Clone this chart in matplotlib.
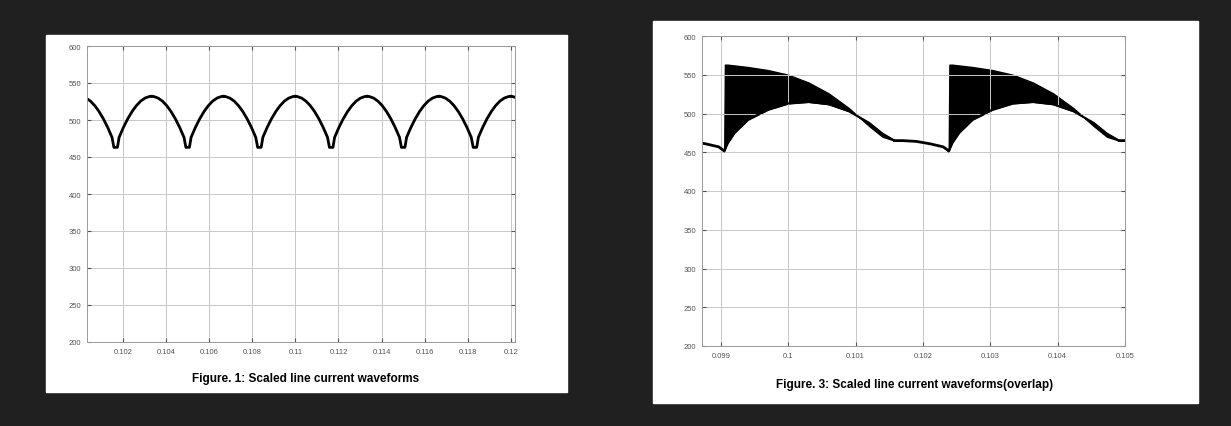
import matplotlib.pyplot as plt
from matplotlib.patches import Rectangle
import numpy as np

plt.rcParams["font.family"] = ["Liberation Sans", "DejaVu Sans"]

W, H = 1231, 427

# Figure 1: one ripple cycle (time from peak in s, current)
cycle1_dt = [0.0, 0.0001, 0.0003, 0.0005, 0.0007, 0.0009, 0.0011, 0.0013, 0.0015, 0.00157,
             0.00159, 0.00175, 0.00177, 0.00183, 0.00203, 0.00223, 0.00243, 0.00263,
             0.00283, 0.00303, 0.00323, 0.003333]
cycle1_val = [532, 531.7, 529.6, 525.5, 519.4, 511.4, 501.6, 490.0, 476.6, 466,
              463, 463, 466, 476.6, 490.0, 501.6, 511.4, 519.4,
              525.5, 529.6, 531.7, 532]
peaks1 = [0.09666, 0.09999, 0.10333, 0.10666, 0.10999, 0.11333, 0.11666, 0.11999]

# Figure 3: overlap band per cycle (time from jump, upper and lower envelope)
band_dt = [0.0, 0.00001, 0.00005, 0.00015, 0.00035, 0.00065, 0.00095, 0.00125,
           0.00155, 0.00185, 0.00215, 0.00235, 0.00253]
band_hi = [452, 563, 563, 562, 560, 556, 550, 540, 526, 507, 484, 470, 465]
band_lo = [452, 454, 462, 475, 492, 505, 513, 515, 512, 503, 488, 474, 465]
tail_dt = [0.00253, 0.00265, 0.00285, 0.00305, 0.00325, 0.00333]
tail_val = [465, 465, 464, 461, 457, 452]
jumps3 = [0.095717, 0.09905, 0.102383]


def setup_axes(ax, xlim, xticks, xlabels):
    ax.set_xlim(*xlim)
    ax.set_ylim(200, 600)
    ax.set_yticks(range(200, 601, 50))
    ax.set_xticks(xticks)
    ax.set_xticklabels(xlabels)
    ax.grid(True, color="#c8c8c8", linewidth=0.7)
    ax.tick_params(labelsize=5.5, colors="#555555", direction="in", length=3,
                   top=True, right=True, pad=4)
    for s in ax.spines.values():
        s.set_color("#999999")
        s.set_linewidth(0.7)


fig = plt.figure(figsize=(W / 100, H / 100), dpi=100)
fig.patch.set_facecolor("#202020")

# white panels
fig.add_artist(Rectangle((46 / W, 1 - 393 / H), (567 - 46) / W, (393 - 36) / H,
                         transform=fig.transFigure, color="white", zorder=0))
fig.add_artist(Rectangle((653 / W, 1 - 404 / H), (1198 - 653) / W, (404 - 22) / H,
                         transform=fig.transFigure, color="white", zorder=0))

ax1 = fig.add_axes([87 / W, 1 - 343 / H, (515 - 87) / W, (343 - 47) / H])
for p in peaks1:
    ax1.plot(p + np.array(cycle1_dt), cycle1_val, color="black", lw=2)
xt1 = [0.102, 0.104, 0.106, 0.108, 0.110, 0.112, 0.114, 0.116, 0.118, 0.120]
setup_axes(ax1, (0.10033, 0.12019), xt1,
           ["0.102", "0.104", "0.106", "0.108", "0.11", "0.112", "0.114", "0.116", "0.118", "0.12"])
fig.text(306 / W, 1 - 379 / H, "Figure. 1: Scaled line current waveforms",
         ha="center", va="center", fontsize=8.5, fontweight="bold")

ax3 = fig.add_axes([702 / W, 1 - 347 / H, (1125 - 702) / W, (347 - 37) / H])
for j in jumps3:
    bx = j + np.array(band_dt)
    ax3.fill_between(bx, band_lo, band_hi, color="black", lw=1)
    ax3.plot(bx, band_lo, color="black", lw=1.5)
    ax3.plot(j + np.array(tail_dt), tail_val, color="black", lw=2)
xt3 = [0.099, 0.100, 0.101, 0.102, 0.103, 0.104, 0.105]
setup_axes(ax3, (0.09872, 0.105), xt3,
           ["0.099", "0.1", "0.101", "0.102", "0.103", "0.104", "0.105"])
fig.text(915 / W, 1 - 385 / H, "Figure. 3: Scaled line current waveforms(overlap)",
         ha="center", va="center", fontsize=8.5, fontweight="bold")

fig.savefig("out.png", dpi=100, facecolor=fig.get_facecolor())
